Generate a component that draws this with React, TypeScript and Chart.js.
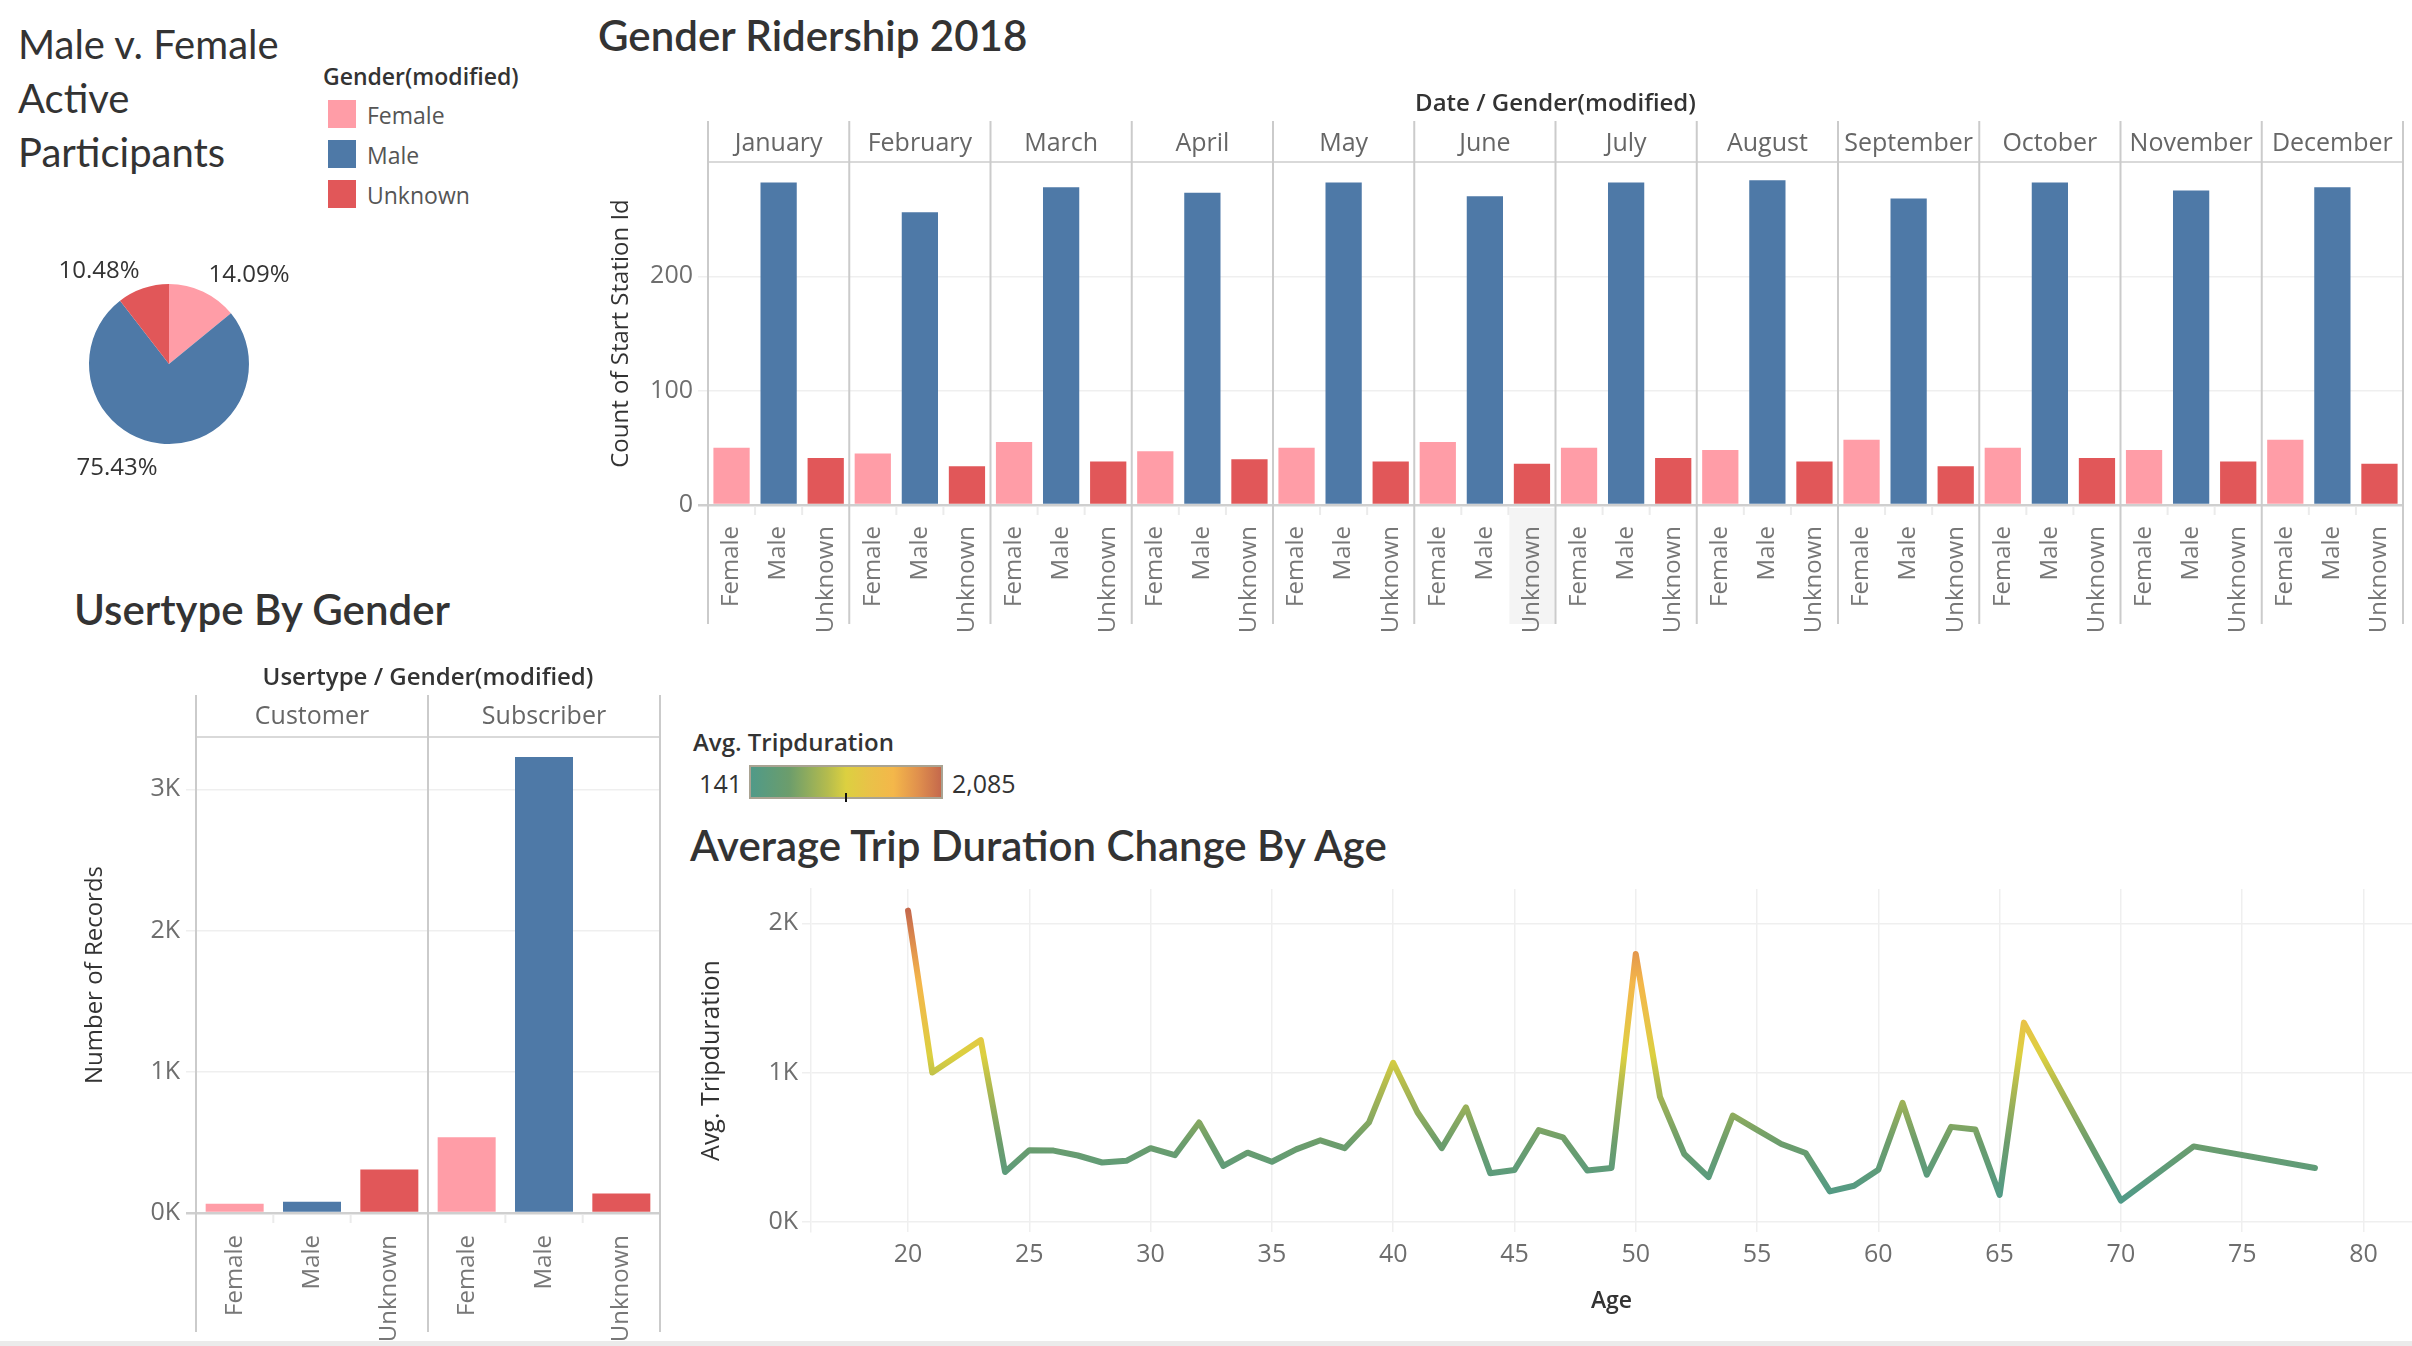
import React, { useEffect, useRef } from 'react';
import { Chart, registerables } from 'chart.js';

Chart.register(...registerables);

// ---------------- data ----------------
const months = ['January', 'February', 'March', 'April', 'May', 'June', 'July', 'August', 'September', 'October', 'November', 'December'];
const genders = ['Female', 'Male', 'Unknown'];
const femaleByMonth = [50, 45, 55, 47, 50, 55, 50, 48, 57, 50, 48, 57];
const maleByMonth = [282, 256, 278, 273, 282, 270, 282, 284, 268, 282, 275, 278];
const unknownByMonth = [41, 34, 38, 40, 38, 36, 41, 38, 34, 41, 38, 36];
const ridershipTicks = [0, 100, 200];

const usertypes = ['Customer', 'Subscriber'];
const customerCounts = [65, 80, 308];
const subscriberCounts = [536, 3228, 138];
const recordTicks = [0, 1000, 2000, 3000];

const pieShares = [14.09, 75.43, 10.48];

const ages = [20, 21, 23, 24, 25, 26, 27, 28, 29, 30, 31, 32, 33, 34, 35, 36, 37, 38, 39, 40, 41, 42, 43, 44, 45, 46, 47, 48, 49, 50, 51, 52, 53, 54, 55, 56, 57, 58, 59, 60, 61, 62, 63, 64, 65, 66, 70, 73, 78];
const avgTrip = [2085, 1000, 1217, 332, 479, 476, 443, 396, 407, 492, 445, 664, 373, 462, 401, 484, 545, 492, 664, 1065, 733, 492, 766, 324, 346, 613, 565, 343, 359, 1794, 836, 453, 298, 711, 615, 520, 460, 202, 240, 348, 796, 314, 635, 617, 179, 1334, 141, 504, 359];
const ageTicks = [20, 25, 30, 35, 40, 45, 50, 55, 60, 65, 70, 75, 80];
const tripTicks = [0, 1000, 2000];

// ---------------- styles ----------------
const FONT = "'Open Sans', 'Noto Sans', sans-serif";
const TITLE_FONT = "Lato, 'Open Sans', sans-serif";
const GENDER_COLORS = ['#ff9da7', '#4e79a7', '#e15759'];
const RAMP_COLORS = ['#509a88', '#6c9d6c', '#b3bb4e', '#dcd040', '#e9c248', '#f4b74a', '#e0904d', '#c5694c'];
const RAMP_STOPS = [0, 0.2, 0.4, 0.5, 0.62, 0.75, 0.88, 1];
const GRID = '#efefef';
const TICK_COLOR = '#6e6e6e';

const tripMin = Math.min(...avgTrip);
const tripMax = Math.max(...avgTrip);

type FacetCfg = {
  id: string;
  groups: string[];
  per: number;
  title: string;
  lineTop: number;
  titleOffset: number;
  headerOffset: number;
  bottomInset: number;
  highlight?: number;
};

function facetPlugin(cfg: FacetCfg) {
  return {
    id: cfg.id,
    beforeDraw(chart: any) {
      if (cfg.highlight === undefined) return;
      const { ctx, chartArea, scales } = chart;
      const x = scales.x;
      const step = x.getPixelForValue(1) - x.getPixelForValue(0);
      const cx = x.getPixelForValue(cfg.highlight);
      ctx.save();
      ctx.fillStyle = '#f4f4f4';
      ctx.fillRect(cx - step / 2 + 1, chartArea.bottom + 3, step - 2, chart.height - cfg.bottomInset - chartArea.bottom - 3);
      ctx.restore();
    },
    afterDraw(chart: any) {
      const { ctx, chartArea, scales } = chart;
      const x = scales.x;
      const n = cfg.groups.length;
      const px = (i: number) => x.getPixelForValue(i);
      const bounds: number[] = [];
      for (let g = 0; g <= n; g++) {
        if (g === 0) bounds.push(chartArea.left);
        else if (g === n) bounds.push(chartArea.right);
        else bounds.push((px(g * cfg.per - 1) + px(g * cfg.per)) / 2);
      }
      const line = (x1: number, y1: number, x2: number, y2: number) => {
        ctx.beginPath();
        ctx.moveTo(x1, y1);
        ctx.lineTo(x2, y2);
        ctx.stroke();
      };
      ctx.save();
      ctx.lineWidth = 2;
      ctx.strokeStyle = '#ebebeb';
      for (let i = 1; i < n * cfg.per; i++) {
        if (i % cfg.per === 0) continue;
        const xs = (px(i - 1) + px(i)) / 2;
        line(xs, chartArea.bottom + 2, xs, chartArea.bottom + 10);
      }
      ctx.strokeStyle = '#d9d9d9';
      line(chartArea.left, chartArea.top, chartArea.right, chartArea.top);
      ctx.strokeStyle = '#cbcbcb';
      bounds.forEach((b) => line(b, chartArea.top - cfg.lineTop, b, chart.height - cfg.bottomInset));
      ctx.fillStyle = '#666666';
      ctx.font = `25px ${FONT}`;
      ctx.textAlign = 'center';
      ctx.textBaseline = 'middle';
      cfg.groups.forEach((g, i) => ctx.fillText(g, (bounds[i] + bounds[i + 1]) / 2, chartArea.top - cfg.headerOffset));
      ctx.fillStyle = '#333333';
      ctx.font = `600 24px ${FONT}`;
      ctx.fillText(cfg.title, (chartArea.left + chartArea.right) / 2, chartArea.top - cfg.titleOffset);
      ctx.restore();
    },
  };
}

function fixWidth(w: number) {
  return (scale: any) => {
    scale.width = w;
    scale.paddingTop = 0;
    scale.paddingBottom = 0;
  };
}
function fixHeight(h: number) {
  return (scale: any) => {
    scale.height = h;
    scale.paddingLeft = 0;
    scale.paddingRight = 0;
  };
}
function setTicks(values: number[]) {
  return (scale: any) => {
    scale.ticks = values.map((v) => ({ value: v }));
  };
}
const kLabel = (v: any) => `${Number(v) / 1000}K`;

// ---------------- charts ----------------
function useChart(factory: (canvas: HTMLCanvasElement) => Chart) {
  const ref = useRef<HTMLCanvasElement | null>(null);
  useEffect(() => {
    if (!ref.current) return;
    const chart = factory(ref.current);
    return () => chart.destroy();
  }, []);
  return ref;
}

function RidershipChart() {
  const labels: string[] = [];
  const values: number[] = [];
  const colors: string[] = [];
  months.forEach((_, m) => {
    [femaleByMonth, maleByMonth, unknownByMonth].forEach((arr, g) => {
      labels.push(genders[g]);
      values.push(arr[m]);
      colors.push(GENDER_COLORS[g]);
    });
  });
  const highlight = months.indexOf('June') * genders.length + genders.indexOf('Unknown');
  const ref = useChart(
    (canvas) =>
      new Chart(canvas, {
        type: 'bar',
        data: { labels, datasets: [{ data: values, backgroundColor: colors, barPercentage: 0.77, categoryPercentage: 1 }] },
        options: {
          animation: false,
          responsive: false,
          layout: { padding: { top: 72, right: 9, left: 0, bottom: 0 } },
          plugins: { legend: { display: false }, tooltip: { enabled: false } },
          scales: {
            x: {
              type: 'category',
              grid: { display: false },
              border: { display: false },
              ticks: { autoSkip: false, maxRotation: 90, minRotation: 90, padding: 13, color: '#777777', font: { family: FONT, size: 24 } },
              afterFit: fixHeight(130),
            },
            y: {
              min: 0,
              max: 300,
              afterBuildTicks: setTicks(ridershipTicks),
              afterFit: fixWidth(128),
              border: { display: false },
              grid: {
                color: (c: any) => (c.tick && c.tick.value === 0 ? '#cfcfcf' : GRID),
                lineWidth: (c: any) => (c.tick && c.tick.value === 0 ? 2.5 : 1.5),
                tickLength: 10,
                drawTicks: true,
              },
              ticks: { padding: 5, color: TICK_COLOR, font: { family: FONT, size: 25 } },
              title: { display: true, text: 'Count of Start Station Id', color: '#333333', font: { family: FONT, size: 24 }, padding: { top: 27, bottom: 0 } },
            },
          },
        },
        plugins: [
          facetPlugin({ id: 'monthFacets', groups: months, per: 3, title: 'Date / Gender(modified)', lineTop: 41, titleOffset: 58, headerOffset: 18, bottomInset: 11, highlight }),
        ],
      } as any)
  );
  return <canvas ref={ref} width={1832} height={545} style={{ position: 'absolute', left: 580, top: 90, width: 1832, height: 545 }} />;
}

function UsertypeChart() {
  const labels = [...genders, ...genders];
  const values = [...customerCounts, ...subscriberCounts];
  const colors = [...GENDER_COLORS, ...GENDER_COLORS];
  const ref = useChart(
    (canvas) =>
      new Chart(canvas, {
        type: 'bar',
        data: { labels, datasets: [{ data: values, backgroundColor: colors, barPercentage: 0.75, categoryPercentage: 1 }] },
        options: {
          animation: false,
          responsive: false,
          layout: { padding: { top: 77, right: 20, left: 0, bottom: 0 } },
          plugins: { legend: { display: false }, tooltip: { enabled: false } },
          scales: {
            x: {
              type: 'category',
              grid: { display: false },
              border: { display: false },
              ticks: { autoSkip: false, maxRotation: 90, minRotation: 90, padding: 14, color: '#777777', font: { family: FONT, size: 24 } },
              afterFit: fixHeight(127),
            },
            y: {
              min: 0,
              max: 3370,
              afterBuildTicks: setTicks(recordTicks),
              afterFit: fixWidth(156),
              border: { display: false },
              grid: {
                color: (c: any) => (c.tick && c.tick.value === 0 ? '#cfcfcf' : GRID),
                lineWidth: (c: any) => (c.tick && c.tick.value === 0 ? 2.5 : 1.5),
                tickLength: 10,
                drawTicks: true,
              },
              ticks: { padding: 6, color: TICK_COLOR, font: { family: FONT, size: 25 }, callback: kLabel },
              title: { display: true, text: 'Number of Records', color: '#333333', font: { family: FONT, size: 24 }, padding: { top: 41, bottom: 0 } },
            },
          },
        },
        plugins: [
          facetPlugin({ id: 'usertypeFacets', groups: usertypes, per: 3, title: 'Usertype / Gender(modified)', lineTop: 42, titleOffset: 59, headerOffset: 20, bottomInset: 8 }),
        ],
      } as any)
  );
  return <canvas ref={ref} width={640} height={680} style={{ position: 'absolute', left: 40, top: 660, width: 640, height: 680 }} />;
}

function TripChart() {
  const points = ages.map((a, i) => ({ x: a, y: avgTrip[i] }));
  const ref = useChart(
    (canvas) =>
      new Chart(canvas, {
        type: 'line',
        data: {
          datasets: [
            {
              data: points,
              borderWidth: 6,
              pointRadius: 0,
              tension: 0,
              borderCapStyle: 'round',
              borderJoinStyle: 'round',
              borderColor: (context: any) => {
                const chart = context.chart;
                const { chartArea, scales } = chart;
                if (!chartArea || !scales.y) return RAMP_COLORS[0];
                const y0 = scales.y.getPixelForValue(tripMin);
                const y1 = scales.y.getPixelForValue(tripMax);
                const g = chart.ctx.createLinearGradient(0, y0, 0, y1);
                RAMP_STOPS.forEach((s, i) => g.addColorStop(s, RAMP_COLORS[i]));
                return g;
              },
            },
          ],
        },
        options: {
          animation: false,
          responsive: false,
          layout: { padding: { top: 29, right: 0, left: 0, bottom: 0 } },
          plugins: { legend: { display: false }, tooltip: { enabled: false } },
          scales: {
            x: {
              type: 'linear',
              min: 16,
              max: 82,
              afterBuildTicks: setTicks(ageTicks),
              afterFit: fixHeight(108),
              border: { display: false },
              grid: { color: GRID, lineWidth: 1.5, drawTicks: false },
              ticks: { padding: 8, color: TICK_COLOR, font: { family: FONT, size: 25 } },
              title: { display: true, text: 'Age', color: '#333333', font: { family: FONT, size: 23, weight: '600' }, padding: { top: 0, bottom: 25 } },
            },
            y: {
              min: -70,
              max: 2230,
              afterBuildTicks: setTicks(tripTicks),
              afterFit: fixWidth(131),
              border: { display: true, color: GRID, width: 1.5 },
              grid: { color: GRID, lineWidth: 1.5, tickLength: 9, drawTicks: true },
              ticks: { padding: 4, color: TICK_COLOR, font: { family: FONT, size: 25 }, callback: kLabel },
              title: { display: true, text: 'Avg. Tripduration', color: '#333333', font: { family: FONT, size: 25 }, padding: { top: 17, bottom: 0 } },
            },
          },
        },
      } as any)
  );
  return <canvas ref={ref} width={1732} height={480} style={{ position: 'absolute', left: 680, top: 860, width: 1732, height: 480 }} />;
}

function PieChart() {
  const ref = useChart(
    (canvas) =>
      new Chart(canvas, {
        type: 'pie',
        data: { labels: genders, datasets: [{ data: pieShares, backgroundColor: GENDER_COLORS, borderWidth: 0 }] },
        options: {
          animation: false,
          responsive: false,
          layout: { padding: { left: 49, right: 51, top: 54, bottom: 56 } },
          plugins: { legend: { display: false }, tooltip: { enabled: false } },
        },
      } as any)
  );
  return <canvas ref={ref} width={260} height={270} style={{ position: 'absolute', left: 40, top: 230, width: 260, height: 270 }} />;
}

// ---------------- text helpers ----------------
type TextProps = {
  x: number;
  y: number;
  size: number;
  text: string;
  weight?: number;
  color?: string;
  family?: string;
  align?: 'left' | 'center' | 'right';
};
function Text({ x, y, size, text, weight = 400, color = '#333333', family = FONT, align = 'left' }: TextProps) {
  const lh = Math.round(size * 1.2);
  const shift = align === 'center' ? 'translateX(-50%)' : align === 'right' ? 'translateX(-100%)' : 'none';
  return (
    <div
      style={{
        position: 'absolute',
        left: x,
        top: y - lh / 2,
        fontSize: size,
        lineHeight: `${lh}px`,
        fontWeight: weight,
        color,
        fontFamily: family,
        whiteSpace: 'nowrap',
        transform: shift,
      }}
    >
      {text}
    </div>
  );
}

const pieLabelPos = [
  { x: 249, y: 272 },
  { x: 117, y: 465 },
  { x: 99, y: 268 },
];

export default function App() {
  const rampCss = `linear-gradient(to right, ${RAMP_COLORS.map((c, i) => `${c} ${RAMP_STOPS[i] * 100}%`).join(', ')})`;
  return (
    <div style={{ position: 'absolute', left: 0, top: 0, width: 2412, height: 1346, background: '#ffffff', overflow: 'hidden' }}>
      {/* Pie panel */}
      <Text x={18} y={44} size={40} text="Male v. Female" family={TITLE_FONT} />
      <Text x={18} y={98} size={40} text="Active" family={TITLE_FONT} />
      <Text x={18} y={152} size={40} text="Participants" family={TITLE_FONT} />
      <Text x={323} y={76} size={23} weight={600} text="Gender(modified)" />
      {genders.map((g, i) => (
        <React.Fragment key={g}>
          <div style={{ position: 'absolute', left: 328, top: 100 + i * 40, width: 28, height: 28, background: GENDER_COLORS[i] }} />
          <Text x={367} y={115 + i * 40} size={23} text={g} color="#555555" />
        </React.Fragment>
      ))}
      <PieChart />
      {pieShares.map((v, i) => (
        <Text key={i} x={pieLabelPos[i].x} y={pieLabelPos[i].y} size={24} text={`${v.toFixed(2)}%`} align="center" color="#333333" />
      ))}

      {/* Ridership */}
      <Text x={598} y={35} size={42} weight={600} text="Gender Ridership 2018" family={TITLE_FONT} />
      <RidershipChart />

      {/* Usertype */}
      <Text x={74} y={609} size={42} weight={600} text="Usertype By Gender" family={TITLE_FONT} />
      <UsertypeChart />

      {/* Trip duration */}
      <Text x={693} y={741} size={24} weight={600} text="Avg. Tripduration" />
      <Text x={742} y={783} size={25} text={tripMin.toLocaleString('en-US')} align="right" />
      <div style={{ position: 'absolute', left: 749, top: 765, width: 190, height: 30, border: '2px solid #a9a392', background: rampCss }} />
      <div style={{ position: 'absolute', left: 845, top: 793, width: 2, height: 9, background: '#111111' }} />
      <Text x={952} y={783} size={25} text={tripMax.toLocaleString('en-US')} />
      <Text x={690} y={845} size={42} weight={600} text="Average Trip Duration Change By Age" family={TITLE_FONT} />
      <TripChart />

      <div style={{ position: 'absolute', left: 0, top: 1341, width: 2412, height: 5, background: '#ebebeb' }} />
    </div>
  );
}
